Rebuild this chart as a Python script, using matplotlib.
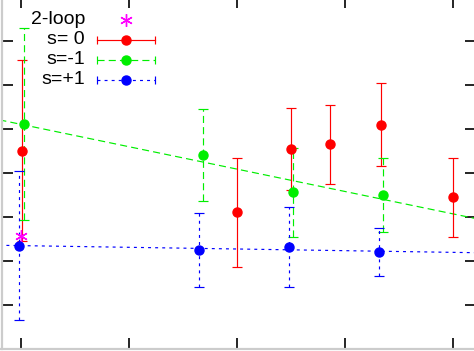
import numpy as np
import matplotlib.pyplot as plt

plt.rcParams['font.family'] = ['Liberation Sans', 'DejaVu Sans']

# s = 0 (red, solid error bars)
x_s0 = [0.006, 2.0, 2.5, 2.86, 3.33, 4.0]
y_s0 = [3.51, 2.11, 3.55, 3.65, 4.10, 2.45]
e_s0 = [2.05, 1.24, 0.93, 0.90, 0.94, 0.90]

# s = -1 (green, dashed)
x_m1 = [0.028, 1.69, 2.52, 3.355]
y_m1 = [4.11, 3.41, 2.56, 2.50]
e_m1 = [2.18, 1.05, 1.01, 0.84]
fit_x_m1 = [-0.2, 4.25]
fit_y_m1 = [4.208, 1.944]

# s = +1 (blue, dotted)
x_p1 = [-0.016, 1.648, 2.48, 3.312]
y_p1 = [1.35, 1.26, 1.32, 1.21]
e_p1 = [1.70, 0.84, 0.90, 0.55]
fit_x_p1 = [-0.2, 4.25]
fit_y_p1 = [1.357, 1.187]

# 2-loop
x_2l = [0.0]
y_2l = [1.57]

red = '#ff0000'
green = '#00ee00'
blue = '#0000ff'
mag = '#ff00ff'
dash = (0, (6, 3.5))
dot = (0, (2.5, 3.5))
lw = 0.85

W, H = 474, 351
fig = plt.figure(figsize=(W / 100, H / 100), dpi=100)
ax = fig.add_axes([1.5 / W, 2 / H, 474.5 / W, 352 / H])

ax.plot(fit_x_m1, fit_y_m1, color=green, lw=lw, linestyle=dash)
ax.plot(fit_x_p1, fit_y_p1, color=blue, lw=lw, linestyle=dot)

ms = 6.5
ax.errorbar(x_s0, y_s0, yerr=e_s0, fmt='o', color=red, ms=ms,
            ecolor=red, elinewidth=lw, capsize=3.5, capthick=lw)
_, caps, bars = ax.errorbar(x_m1, y_m1, yerr=e_m1, fmt='o', color=green, ms=ms,
                            ecolor=green, elinewidth=lw, capsize=3.5, capthick=lw)
bars[0].set_linestyle(dash)
_, caps, bars = ax.errorbar(x_p1, y_p1, yerr=e_p1, fmt='o', color=blue, ms=ms,
                            ecolor=blue, elinewidth=lw, capsize=3.5, capthick=lw)
bars[0].set_linestyle(dot)
ax.plot(x_2l, y_2l, linestyle='none', marker=(6, 2, 0), color=mag, ms=9, mew=1.0)

ax.set_xlim(-0.18, 4.213)
ax.set_ylim(-1, 7)
ax.set_xticks([0, 1, 2, 3, 4])
ax.set_yticks(range(0, 7))
ax.tick_params(direction='in', length=8, width=1.2, color='black',
               top=True, right=True, labelbottom=False, labelleft=False)
for side in ['left', 'bottom']:
    ax.spines[side].set_color('#cccccc')
    ax.spines[side].set_linewidth(1.6)
for side in ['top', 'right']:
    ax.spines[side].set_visible(False)

# legend, gnuplot style
def fx(px):
    return px / W

def fy(py):
    return 1 - py / H

entries = [('2-loop', mag, None), ('s= 0', red, '-'), ('s=-1', green, dash), ('s=+1', blue, dot)]
for i, (label, col, ls) in enumerate(entries):
    py = 19.5 + 20 * i
    fig.text(fx(85), fy(py), label, ha='right', va='center', fontsize=14)
    if ls is None:
        ax.plot([fx(126)], [fy(py)], transform=fig.transFigure, clip_on=False,
                linestyle='none', marker=(6, 2, 0), color=col, ms=9, mew=1.0)
        continue
    ax.plot([fx(97), fx(155)], [fy(py), fy(py)], transform=fig.transFigure,
            clip_on=False, color=col, lw=lw, linestyle=ls)
    ax.plot([fx(97), fx(155)], [fy(py), fy(py)], transform=fig.transFigure,
            clip_on=False, linestyle='none', marker='|', ms=6, mew=lw, color=col)
    ax.plot([fx(126)], [fy(py)], transform=fig.transFigure, clip_on=False,
            linestyle='none', marker='o', ms=ms, color=col)

fig.savefig('out.png', dpi=100)
